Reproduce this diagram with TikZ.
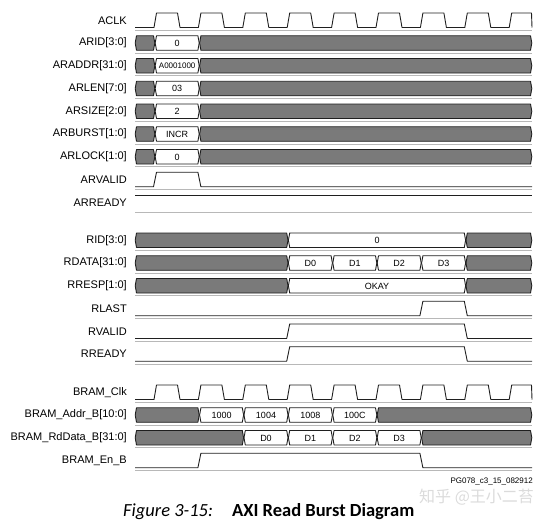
\documentclass[tikz,border=0pt]{standalone}
\usepackage{fontspec}
\setmainfont{Liberation Sans}
\newfontfamily\capfont{Carlito}
\newfontfamily\cjkfont{Noto Sans CJK SC}
\usetikzlibrary{positioning}
\colorlet{busGray}{black!52}
\colorlet{sepColor}{black!28}
\colorlet{penColor}{black!88}
\tikzset{
  wave/.style={penColor, line width=0.9pt, line join=round},
  sepline/.style={sepColor, line width=0.8pt},
  signame/.style={anchor=east, inner sep=0pt, font=\fontsize{11}{13}\selectfont},
  busval/.style={inner sep=0pt, font=\fontsize{9}{11}\selectfont},
}
% one bus segment: top, from, to, fill
\newcommand{\busseg}[4]{%
  \filldraw[wave, fill=#4] ({#2+1.5},{#1}) -- ({#3-1.5},{#1}) -- ({#3-0.2},{#1+7.25})
    -- ({#3-1.5},{#1+14.5}) -- ({#2+1.5},{#1+14.5}) -- ({#2+0.2},{#1+7.25}) -- cycle;}
% white bus segment with its value: top, from, to, text, name
\newcommand{\busword}[5]{%
  \busseg{#1}{#2}{#3}{white}
  \node[busval] (#5) at ({(#2+#3)/2},{#1+7.5}) {#4};}
% one clock pulse appended to a path: top, rising edge
\newcommand{\clkup}[2]{-- ({#2-1},{#1+14.5}) -- ({#2+1.5},{#1}) -- ({#2+22.5},{#1}) -- ({#2+25},{#1+14.5})}
% full clock row: top
\newcommand{\clkrow}[1]{%
  \draw[wave] (135,{#1+14.5}) \clkup{#1}{155} \clkup{#1}{199.4} \clkup{#1}{243.8}
    \clkup{#1}{288.2} \clkup{#1}{332.6} \clkup{#1}{377} \clkup{#1}{421.4} \clkup{#1}{465.8}
    -- (509.2,{#1+14.5}) -- (511.7,{#1}) -- (531.5,{#1}) -- (532,{#1+14.5});}
% single pulse: top, rise, fall
\newcommand{\pulse}[3]{%
  \draw[wave] (135,{#1+14.5}) -- ({#2-1.5},{#1+14.5}) -- ({#2+1.5},{#1})
    -- ({#3-1.5},{#1}) -- ({#3+1.5},{#1+14.5}) -- (532,{#1+14.5});}
\newcommand{\sep}[1]{\draw[sepline] (135,{#1+17.2}) -- (532,{#1+17.2});}

\begin{document}
\begin{tikzpicture}[x=1pt,y=-1pt]
  \useasboundingbox (0,0) rectangle (554,523);

  % row separators
  \sep{13} \sep{35.75} \sep{58.5} \sep{81.25} \sep{104} \sep{126.75} \sep{149.5} \sep{172.25} \sep{195}
  \sep{233} \sep{255.75} \sep{278.5} \sep{301.25} \sep{324} \sep{346.75}
  \sep{385} \sep{407.75} \sep{430.5} \sep{453.25}

  % signal names
  \node[signame] (aclk) at (127,20.25) {ACLK};
  \node[signame] (arid) at (127,43) {ARID[3:0]};
  \node[signame] (araddr) at (127,65.75) {ARADDR[31:0]};
  \node[signame] (arlen) at (127,88.5) {ARLEN[7:0]};
  \node[signame] (arsize) at (127,111.25) {ARSIZE[2:0]};
  \node[signame] (arburst) at (127,134) {ARBURST[1:0]};
  \node[signame] (arlock) at (127,156.75) {ARLOCK[1:0]};
  \node[signame] (arvalid) at (127,179.5) {ARVALID};
  \node[signame] (arready) at (127,202.25) {ARREADY};
  \node[signame] (rid) at (127,240.25) {RID[3:0]};
  \node[signame] (rdata) at (127,263) {RDATA[31:0]};
  \node[signame] (rresp) at (127,285.75) {RRESP[1:0]};
  \node[signame] (rlast) at (127,308.5) {RLAST};
  \node[signame] (rvalid) at (127,331.25) {RVALID};
  \node[signame] (rready) at (127,354) {RREADY};
  \node[signame] (bclk) at (127,392.25) {BRAM\_Clk};
  \node[signame] (baddr) at (127,415) {BRAM\_Addr\_B[10:0]};
  \node[signame] (brddata) at (127,437.75) {BRAM\_RdData\_B[31:0]};
  \node[signame] (benb) at (127,460.5) {BRAM\_En\_B};

  % read address channel
  \clkrow{13}
  \busseg{35.75}{135}{155}{busGray} \busword{35.75}{155}{199.4}{0}{v-arid} \busseg{35.75}{199.4}{532}{busGray}
  \busseg{58.5}{135}{155}{busGray} \busword{58.5}{155}{199.4}{\fontsize{8}{10}\selectfont A0001000}{v-araddr} \busseg{58.5}{199.4}{532}{busGray}
  \busseg{81.25}{135}{155}{busGray} \busword{81.25}{155}{199.4}{03}{v-arlen} \busseg{81.25}{199.4}{532}{busGray}
  \busseg{104}{135}{155}{busGray} \busword{104}{155}{199.4}{2}{v-arsize} \busseg{104}{199.4}{532}{busGray}
  \busseg{126.75}{135}{155}{busGray} \busword{126.75}{155}{199.4}{INCR}{v-arburst} \busseg{126.75}{199.4}{532}{busGray}
  \busseg{149.5}{135}{155}{busGray} \busword{149.5}{155}{199.4}{0}{v-arlock} \busseg{149.5}{199.4}{532}{busGray}
  \pulse{172.25}{155}{199.4}
  \draw[wave] (135,195) -- (532,195);

  % read data channel
  \busseg{233}{135}{288.2}{busGray} \busword{233}{288.2}{465.8}{0}{v-rid} \busseg{233}{465.8}{532}{busGray}
  \busseg{255.75}{135}{288.2}{busGray}
  \busword{255.75}{288.2}{332.6}{D0}{v-rd0} \busword{255.75}{332.6}{377}{D1}{v-rd1}
  \busword{255.75}{377}{421.4}{D2}{v-rd2} \busword{255.75}{421.4}{465.8}{D3}{v-rd3}
  \busseg{255.75}{465.8}{532}{busGray}
  \busseg{278.5}{135}{288.2}{busGray} \busword{278.5}{288.2}{465.8}{OKAY}{v-rresp} \busseg{278.5}{465.8}{532}{busGray}
  \pulse{301.25}{421.4}{465.8}
  \pulse{324}{288.2}{465.8}
  \pulse{346.75}{288.2}{465.8}

  % BRAM port B
  \clkrow{385}
  \busseg{407.75}{135}{199.4}{busGray}
  \busword{407.75}{199.4}{243.8}{1000}{v-a0} \busword{407.75}{243.8}{288.2}{1004}{v-a1}
  \busword{407.75}{288.2}{332.6}{1008}{v-a2} \busword{407.75}{332.6}{377}{100C}{v-a3}
  \busseg{407.75}{377}{532}{busGray}
  \busseg{430.5}{135}{243.8}{busGray}
  \busword{430.5}{243.8}{288.2}{D0}{v-bd0} \busword{430.5}{288.2}{332.6}{D1}{v-bd1}
  \busword{430.5}{332.6}{377}{D2}{v-bd2} \busword{430.5}{377}{421.4}{D3}{v-bd3}
  \busseg{430.5}{421.4}{532}{busGray}
  \pulse{453.25}{199.4}{421.4}

  % figure id, caption and watermark
  \node[anchor=east, inner sep=0pt, font=\fontsize{8}{10}\selectfont] (figid) at (533,481.5) {PG078\_c3\_15\_082912};
  \node[anchor=base west, inner sep=0pt, font=\capfont\itshape\fontsize{18.5}{22}\selectfont] (capnum) at (123,516.5) {Figure 3-15:};
  \node[anchor=base west, inner sep=0pt, font=\capfont\bfseries\fontsize{18.5}{22}\selectfont] (captxt) at (232,516.5) {AXI Read Burst Diagram};
  \node[anchor=west, inner sep=0pt, text=black!14, font=\cjkfont\fontsize{16}{18}\selectfont] (mark) at (419,497) {知乎 @王小二苔};
\end{tikzpicture}
\end{document}
